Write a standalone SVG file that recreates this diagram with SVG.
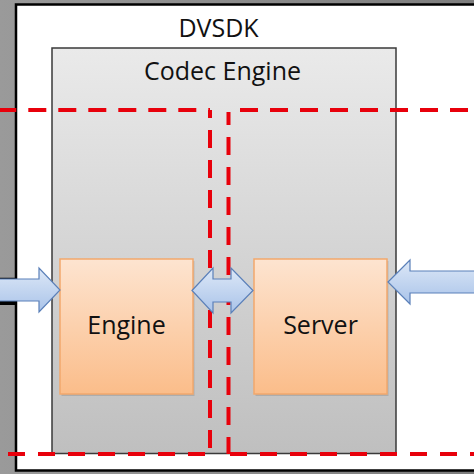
<svg xmlns="http://www.w3.org/2000/svg" width="474" height="474" viewBox="0 0 474 474">
  <defs>
    <linearGradient id="gCodec" x1="0" y1="0" x2="0" y2="1">
      <stop offset="0" stop-color="#eaeaea"/>
      <stop offset="1" stop-color="#bfbfbf"/>
    </linearGradient>
    <linearGradient id="gOrange" x1="0" y1="0" x2="0" y2="1">
      <stop offset="0" stop-color="#fde4d0"/>
      <stop offset="1" stop-color="#fbbd8a"/>
    </linearGradient>
    <linearGradient id="gBlue" x1="0" y1="0" x2="0" y2="1">
      <stop offset="0" stop-color="#dde8f7"/>
      <stop offset="1" stop-color="#a9c3e9"/>
    </linearGradient>
    <linearGradient id="gStrip" x1="0" y1="0" x2="1" y2="0">
      <stop offset="0" stop-color="#9a9a9a"/>
      <stop offset="1" stop-color="#7e7e7e"/>
    </linearGradient>
  </defs>
  <style>
    .lbl { font-family: "Open Sans", "Liberation Sans", sans-serif; font-size: 25px; fill: #111; text-anchor: middle; }
    .comp { fill: url(#gOrange); stroke: #f2a86c; stroke-width: 1.5; }
    .shadow { fill: #000; opacity: 0.12; }
    .arrow { fill: url(#gBlue); stroke: #5b80b9; stroke-width: 1.2; stroke-linejoin: miter; }
    .dash { fill: none; stroke: #e8000b; stroke-width: 4; stroke-dasharray: 18 12; }
  </style>

  <!-- background -->
  <rect x="0" y="0" width="474" height="474" fill="url(#gStrip)"/>
  <rect x="0" y="298" width="16" height="7" fill="#000"/>
  <line x1="0" y1="278.5" x2="16" y2="278.5" stroke="#000" stroke-width="1.5"/>

  <g id="dvsdk">
    <rect x="16" y="4.5" width="470" height="466" fill="#fff" stroke="#000" stroke-width="2.5"/>
    <text class="lbl" x="218.5" y="36.5">DVSDK</text>
  </g>

  <g id="codec-engine">
    <rect x="52" y="48" width="344" height="405.5" fill="url(#gCodec)" stroke="#3a3a3a" stroke-width="1.5"/>
    <text class="lbl" x="222.5" y="80">Codec Engine</text>
  </g>

  <g id="boundaries">
    <path class="dash" d="M0,110 H210" stroke-dashoffset="1.7"/>
    <path class="dash" d="M210,110 V448" stroke-dashoffset="10"/>
    <path class="dash" d="M240,110 H474"/>
    <path class="dash" d="M228.5,112 V454" stroke-dashoffset="5"/>
    <path class="dash" d="M8,454 H205" style="stroke-dasharray:17 13"/>
    <path class="dash" d="M230,454 H474" style="stroke-dasharray:17 13"/>
  </g>

  <g id="engine">
    <rect class="shadow" x="61.5" y="261" width="133" height="135"/>
    <rect class="comp" x="60" y="259" width="133" height="135"/>
    <text class="lbl" x="126.5" y="334">Engine</text>
  </g>

  <g id="server">
    <rect class="shadow" x="255.5" y="261" width="133" height="135"/>
    <rect class="comp" x="254" y="259" width="133" height="135"/>
    <text class="lbl" x="320.5" y="334">Server</text>
  </g>

  <g id="connectors">
    <polygon class="arrow" points="-2,279 39,279 39,268 60,290 39,312 39,301 -2,301"/>
    <polygon class="arrow" points="192,290.5 213,268 213,279 231,279 231,268 253,290.5 231,313 231,302 213,302 213,313"/>
    <polygon class="arrow" points="388,282 410,260 410,271 480,271 480,293 410,293 410,304"/>
  </g>
</svg>
